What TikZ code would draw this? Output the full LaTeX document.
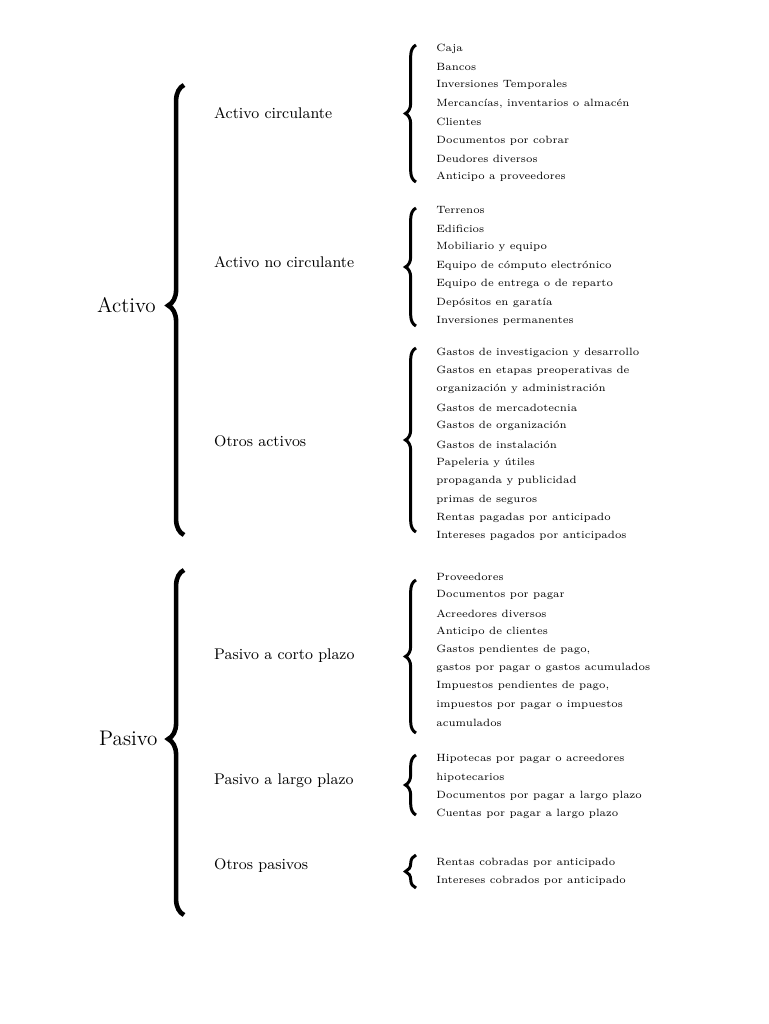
\documentclass[tikz,border=0pt]{standalone}
\usetikzlibrary{decorations.pathreplacing,positioning}
\tikzset{
  bigbrace/.style={decorate,decoration={brace,amplitude=9pt,aspect=#1},line width=2.6pt},
  smallbrace/.style={decorate,decoration={brace,amplitude=6pt,aspect=#1},line width=1.7pt},
  main/.style={anchor=west,font=\fontsize{12}{14}\selectfont},
  sub/.style={anchor=west,font=\fontsize{8.8}{10}\selectfont},
  item/.style={anchor=west,inner sep=0pt,font=\fontsize{6}{7}\selectfont}
}
\begin{document}
\begin{tikzpicture}[x=0.02cm,y=-0.02cm]
    \useasboundingbox (0,0) rectangle (768,1024);
    % big braces
    \coordinate (ab) at (184,535); \coordinate (at) at (184,85);
    \draw[bigbrace=0.51] (ab) -- (at);
    \coordinate (pb) at (184,915); \coordinate (pt) at (184,570);
    \draw[bigbrace=0.51] (pb) -- (pt);
    \node[main] (activo) at (91,305) {Activo};
    \node[main] (pasivo) at (93,738) {Pasivo};

    % sub categories
    \node[sub] (ac) at (208,113) {Activo circulante};
    \node[sub] (anc) at (208,262) {Activo no circulante};
    \node[sub] (oa) at (208,441) {Otros activos};
    \node[sub] (pc) at (208,656) {Pasivo a corto plazo};
    \node[sub] (pl) at (208,781) {Pasivo a largo plazo};
    \node[sub] (op) at (208,866) {Otros pasivos};

    % small braces
    \foreach \name/\top/\bot/\asp in {bac/45/182/0.5, banc/208/326/0.5, boa/348/532/0.5,
                                     bpc/580/733/0.5, bpl/755/815/0.5, bop/855/888/0.5} {
      \coordinate (\name-b) at (416,\bot); \coordinate (\name-t) at (416,\top);
      \draw[smallbrace=\asp] (\name-b) -- (\name-t);
    }

    % items
    \foreach \t [count=\i] in {Caja, Bancos, Inversiones Temporales,
        {Mercancías, inventarios o almacén}, Clientes, Documentos por cobrar,
        Deudores diversos, Anticipo a proveedores}
      \node[item] (ac\i) at (436,{30+18.4*\i}) {\t};
    \foreach \t [count=\i] in {Terrenos, Edificios, Mobiliario y equipo,
        Equipo de cómputo electrónico, Equipo de entrega o de reparto,
        Depósitos en garatía, Inversiones permanentes}
      \node[item] (anc\i) at (436,{192+18.4*\i}) {\t};
    \foreach \t [count=\i] in {Gastos de investigacion y desarrollo,
        Gastos en etapas preoperativas de, organización y administración,
        Gastos de mercadotecnia, Gastos de organización, Gastos de instalación,
        Papeleria y útiles, propaganda y publicidad, primas de seguros,
        Rentas pagadas por anticipado, Intereses pagados por anticipados}
      \node[item] (oa\i) at (436,{334+18.4*\i}) {\t};
    \foreach \t [count=\i] in {Proveedores, Documentos por pagar, Acreedores diversos,
        Anticipo de clientes, {Gastos pendientes de pago,},
        gastos por pagar o gastos acumulados, {Impuestos pendientes de pago,},
        impuestos por pagar o impuestos, acumulados}
      \node[item] (pc\i) at (436,{559+18.2*\i}) {\t};
    \foreach \t [count=\i] in {Hipotecas por pagar o acreedores, hipotecarios,
        Documentos por pagar a largo plazo, Cuentas por pagar a largo plazo}
      \node[item] (pl\i) at (436,{741+18.2*\i}) {\t};
    \foreach \t [count=\i] in {Rentas cobradas por anticipado, Intereses cobrados por anticipado}
      \node[item] (op\i) at (436,{844+18.5*\i}) {\t};
\end{tikzpicture}
\end{document}
